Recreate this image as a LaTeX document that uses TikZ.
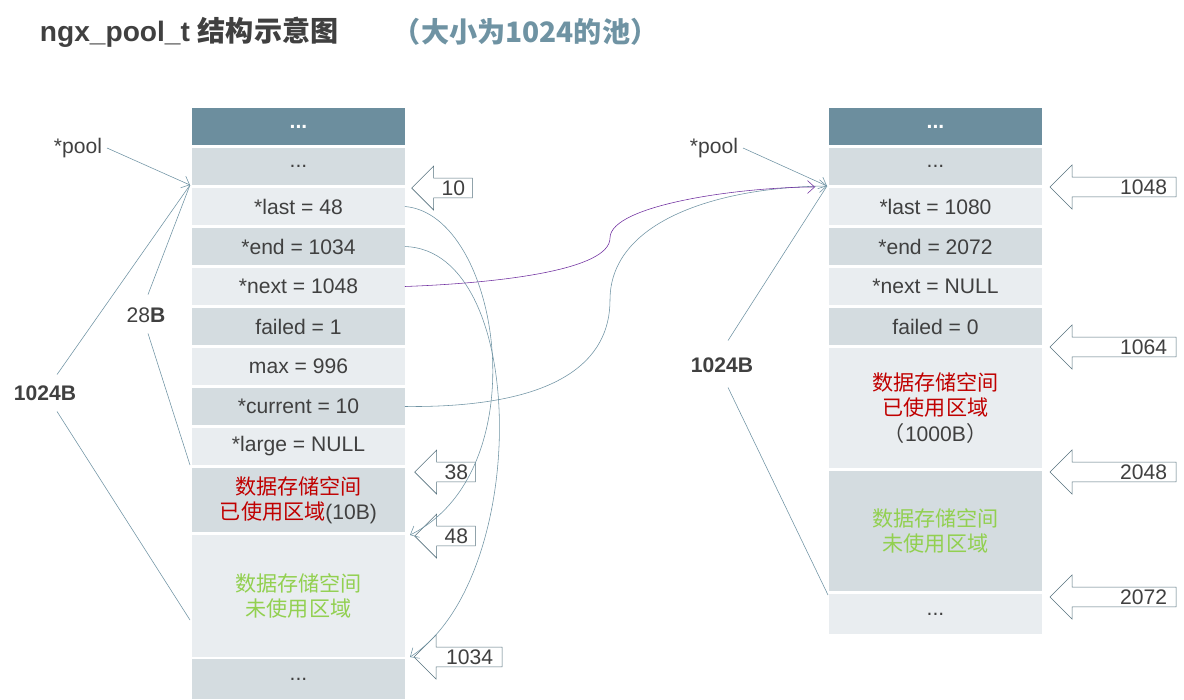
\documentclass[tikz,border=0pt]{standalone}
\usepackage{fontspec}
\setmainfont{Liberation Sans}
\newfontfamily\cjk{Noto Sans CJK SC}
\usetikzlibrary{shapes.arrows, arrows.meta, positioning, calc}

\definecolor{headc}{HTML}{6C8E9E}
\definecolor{darkc}{HTML}{D4DCE0}
\definecolor{lightc}{HTML}{E9EDF0}
\definecolor{linec}{HTML}{6F93A3}
\definecolor{usedc}{HTML}{C00000}
\definecolor{freec}{HTML}{92D050}
\definecolor{textc}{HTML}{404040}
\definecolor{purc}{HTML}{7030A0}

\tikzset{
  cell/.style={rectangle, inner sep=0pt, minimum width=5.3cm, minimum height=0.925cm,
    font=\fontsize{15}{18}\selectfont, text=textc, align=center},
  head/.style={cell, fill=headc, text=white, font=\bfseries\fontsize{15}{18}\selectfont},
  dcell/.style={cell, fill=darkc},
  lcell/.style={cell, fill=lightc},
  ptr/.style={single arrow, shape border rotate=180, draw=headc!80!black, fill=white,
    font=\fontsize{15}{18}\selectfont, text=textc, inner sep=1pt, minimum width=1.1cm,
    single arrow head extend=0.28cm, align=right},
  sptr/.style={ptr, minimum height=1.52cm, text width=0.9cm},
  bptr/.style={ptr, minimum height=3.15cm, text width=2.45cm},
  lab/.style={font=\fontsize{15}{18}\selectfont, text=textc},
  link/.style={draw=linec, -{Straight Barb[length=5pt,width=9pt]}},
}

\begin{document}
\begin{tikzpicture}[x=0.025cm, y=-0.025cm]
  \useasboundingbox (0,0) rectangle (1184,699);

  % Title
  \node[anchor=west, font=\bfseries\fontsize{20}{22}\selectfont, text=textc] (title) at (35,32)
    {ngx\_pool\_t {\cjk 结构示意图}};
  \node[anchor=west, font=\bfseries\fontsize{20}{22}\selectfont, text=linec] (sub) at (388,32)
    {\cjk （大小为1024的池）};

  % Left pool
  \node[head]  (lh)   at (298.5,126.5) {...};
  \node[dcell] (ldot) at (298.5,166.5) {...};
  \node[lcell] (llast) at (298.5,206.5) {*last = 48};
  \node[dcell] (lend) at (298.5,246.5) {*end = 1034};
  \node[lcell] (lnext) at (298.5,286.5) {*next = 1048};
  \node[dcell] (lfail) at (298.5,326.5) {failed = 1};
  \node[lcell] (lmax) at (298.5,366.5) {max = 996};
  \node[dcell] (lcur) at (298.5,406.5) {*current = 10};
  \node[lcell] (llarge) at (298.5,446.5) {*large = NULL};
  \node[dcell, minimum height=1.6cm, text=usedc] (lused) at (298.5,500)
    {{\cjk 数据存储空间}\\{\cjk 已使用区域}\textcolor{textc}{(10B)}};
  \node[lcell, minimum height=3.05cm, text=freec] (lfree) at (298.5,596)
    {{\cjk 数据存储空间}\\{\cjk 未使用区域}};
  \node[dcell, minimum height=1.0cm] (lend2) at (298.5,679) {...};

  % Right pool
  \node[head]  (rh)   at (935.5,126.5) {...};
  \node[dcell] (rdot) at (935.5,166.5) {...};
  \node[lcell] (rlast) at (935.5,206.5) {*last = 1080};
  \node[dcell] (rend) at (935.5,246.5) {*end = 2072};
  \node[lcell] (rnext) at (935.5,286.5) {*next = NULL};
  \node[dcell] (rfail) at (935.5,326.5) {failed = 0};
  \node[lcell, minimum height=3.0cm, text=usedc] (rused) at (935.5,408)
    {{\cjk 数据存储空间}\\{\cjk 已使用区域}\\\textcolor{textc}{{\cjk （}1000B{\cjk ）}}};
  \node[dcell, minimum height=3.02cm, text=freec] (rfree) at (935.5,531)
    {{\cjk 数据存储空间}\\{\cjk 未使用区域}};
  \node[lcell, minimum height=1.0cm] (rend2) at (935.5,614) {...};

  % Offset pointers
  \node[sptr] (p10) at (447,188) {10};
  \node[sptr] (p38) at (450,472) {38};
  \node[sptr] (p48) at (450,536) {48};
  \node[sptr, minimum height=2.2cm, text width=1.5cm] (p1034) at (463,657) {1034};
  \node[bptr] (p1048) at (1118,187) {1048};
  \node[bptr] (p1064) at (1118,347) {1064};
  \node[bptr] (p2048) at (1118,472) {2048};
  \node[bptr] (p2072) at (1118,597) {2072};

  % Labels
  \node[lab] (lpool) at (78,148) {*pool};
  \node[lab] (l28) at (146,315) {28\textbf{B}};
  \node[lab, font=\bfseries\fontsize{15}{18}\selectfont] (l1024) at (45,393) {1024B};
  \node[lab] (rpool) at (714,148) {*pool};
  \node[lab, font=\bfseries\fontsize{15}{18}\selectfont] (r1024) at (722,365) {1024B};

  \coordinate (lp) at (190,185);
  \coordinate (rp) at (827,186);
  \coordinate (lbot) at (190,465);
  \coordinate (lfreeb) at (190,620);
  \coordinate (rfreeb) at (828,595);
  \coordinate (t48) at (410,535);
  \coordinate (t1034) at (410,657);
  \coordinate (tn) at (815,187);

  % Size marks
  \draw[link] (lpool.east) -- (lp);
  \draw[linec] (l28.north) ++(2,-8) -- (lp);
  \draw[linec] (l28.south) ++(2,6) -- (lbot);
  \draw[linec] (l1024.north) ++(12,-6) -- (lp);
  \draw[linec] (l1024.south) ++(12,6) -- (lfreeb);
  \draw[link] (rpool.east) -- (rp);
  \draw[linec] (r1024.north) ++(6,-12) -- (rp);
  \draw[linec] (r1024.south) ++(6,10) -- (rfreeb);

  % Pointer curves
  \draw[link] (llast.east) .. controls (500,214) and (540,470) .. (t48);
  \draw[link] (lend.east) .. controls (530,250) and (530,580) .. (t1034);
  \draw[link] (lcur.east) .. controls (560,408) and (610,360) .. (610,300)
    .. controls (610,220) and (720,187) .. (rp);
  \draw[link, draw=purc] (lnext.east) .. controls (500,283) and (610,270) .. (610,238)
    .. controls (610,205) and (740,187) .. (tn);
\end{tikzpicture}
\end{document}
